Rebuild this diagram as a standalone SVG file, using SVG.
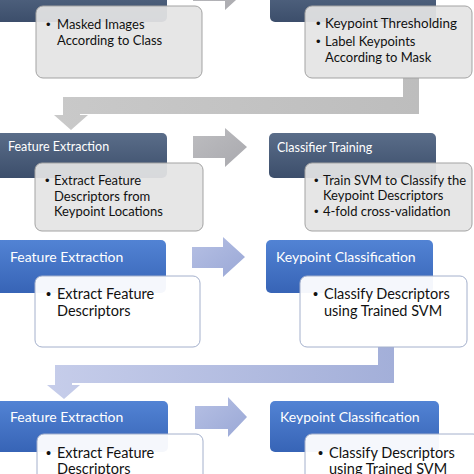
<svg xmlns="http://www.w3.org/2000/svg" width="474" height="474" viewBox="0 0 474 474">
<defs>
<linearGradient id="gDark" x1="0" y1="0" x2="0" y2="1"><stop offset="0" stop-color="#5a6d89"/><stop offset="1" stop-color="#3c4e6b"/></linearGradient>
<linearGradient id="gBlue" x1="0" y1="0" x2="0" y2="1"><stop offset="0" stop-color="#5283d4"/><stop offset="1" stop-color="#3764b6"/></linearGradient>
<linearGradient id="gGrayArr" x1="0" y1="0" x2="1" y2="1"><stop offset="0" stop-color="#bdbdc0"/><stop offset="1" stop-color="#a9a9ae"/></linearGradient>
<linearGradient id="gBlueArr" x1="0" y1="0" x2="1" y2="1"><stop offset="0" stop-color="#b6c0e4"/><stop offset="1" stop-color="#9aa8d6"/></linearGradient>
<linearGradient id="gGrayCon" x1="0" y1="0" x2="1" y2="0"><stop offset="0" stop-color="#c9c9c9"/><stop offset="1" stop-color="#bdbdbd"/></linearGradient>
<linearGradient id="gBlueCon" x1="0" y1="0" x2="1" y2="0"><stop offset="0" stop-color="#c6cdea"/><stop offset="1" stop-color="#a3afd9"/></linearGradient>
</defs>
<style>
.hd{fill:url(#gDark)}
.hb{fill:url(#gBlue)}
.ig{fill:#e4e4e4;fill-opacity:0.93;stroke:#a3a3a3;stroke-width:1}
.iw{fill:#ffffff;fill-opacity:0.95;stroke:#a4b0cc;stroke-width:1}
.ht{font-family:Lato,"Liberation Sans",sans-serif;fill:#ffffff}
.bt{font-family:Lato,"Liberation Sans",sans-serif;fill:#111111}
.bu{font-family:"Liberation Sans",sans-serif}
.s1{font-size:12.5px}
.s2{font-size:14px}
.b1{font-size:13px}
.b2{font-size:14.5px}
</style>
<g id="connectors">
<path d="M419 78 L419 114 L80 114 L80 115 L88 115 L71 130 L54 115 L63 115 L63 97 L403 97 L403 78 Z" fill="url(#gGrayCon)"/>
<path d="M394 347 L394 383 L72 383 L72 385 L80 385 L64 399 L47 385 L55 385 L55 365 L378 365 L378 347 Z" fill="url(#gBlueCon)"/>
<path d="M193 -21 L225 -21 L225 -30 L247 -10 L225 10 L225 1 L193 1 Z" fill="url(#gGrayArr)"/>
<path d="M193 136 L225 136 L225 128 L247 147 L225 167 L225 158 L193 158 Z" fill="url(#gGrayArr)"/>
<path d="M192 247 L223 247 L223 237 L245 257 L223 277 L223 268 L192 268 Z" fill="url(#gBlueArr)"/>
<path d="M195 406 L228 406 L228 397 L247 417 L228 437 L228 429 L195 429 Z" fill="url(#gBlueArr)"/>
</g>
<g id="n1">
<rect class="hd" x="-5" y="-20" width="172" height="42" rx="5"/>
<rect class="ig" x="36" y="6" width="166" height="72" rx="7"/>
<text class="bt b1"><tspan class="bu" x="46" y="29">•</tspan><tspan x="57" y="29">Masked Images</tspan><tspan x="57" y="44.5">According to Class</tspan></text>
</g>
<g id="n2">
<rect class="hd" x="270" y="-20" width="166" height="42" rx="5"/>
<rect class="ig" x="305" y="6" width="167" height="72" rx="7"/>
<text class="bt b1"><tspan class="bu" x="316" y="28">•</tspan><tspan x="325" y="28" textLength="132" lengthAdjust="spacingAndGlyphs">Keypoint Thresholding</tspan><tspan class="bu" x="316" y="46">•</tspan><tspan x="325" y="46">Label Keypoints</tspan><tspan x="325" y="62">According to Mask</tspan></text>
</g>
<g id="n3">
<rect class="hd" x="-5" y="133" width="172" height="45" rx="5"/>
<text class="ht s1" x="8" y="151">Feature Extraction</text>
<rect class="ig" x="35" y="163" width="168" height="68" rx="7"/>
<text class="bt b1"><tspan class="bu" x="45" y="185">•</tspan><tspan x="54" y="185">Extract Feature</tspan><tspan x="54" y="201">Descriptors from</tspan><tspan x="54" y="216">Keypoint Locations</tspan></text>
</g>
<g id="n4">
<rect class="hd" x="269" y="133" width="167" height="45" rx="5"/>
<text class="ht s1" x="277" y="152">Classifier Training</text>
<rect class="ig" x="305" y="163" width="167" height="68" rx="7"/>
<text class="bt b1"><tspan class="bu" x="314" y="185">•</tspan><tspan x="323" y="185">Train SVM to Classify the</tspan><tspan x="323" y="200">Keypoint Descriptors</tspan><tspan class="bu" x="314" y="216">•</tspan><tspan x="323" y="216">4-fold cross-validation</tspan></text>
</g>
<g id="n5">
<rect class="hb" x="-5" y="240" width="171" height="53" rx="5"/>
<text class="ht s2" x="10" y="262">Feature Extraction</text>
<rect class="iw" x="35" y="276" width="165" height="71" rx="7"/>
<text class="bt b2"><tspan class="bu" x="46" y="299">•</tspan><tspan x="57" y="299">Extract Feature</tspan><tspan x="57" y="316">Descriptors</tspan></text>
</g>
<g id="n6">
<rect class="hb" x="266" y="240" width="167" height="53" rx="5"/>
<text class="ht s2" x="276" y="262">Keypoint Classification</text>
<rect class="iw" x="300" y="276" width="167" height="71" rx="7"/>
<text class="bt b2"><tspan class="bu" x="313" y="299">•</tspan><tspan x="324" y="299">Classify Descriptors</tspan><tspan x="324" y="316">using Trained SVM</tspan></text>
</g>
<g id="n7">
<rect class="hb" x="-5" y="401" width="173" height="51" rx="5"/>
<text class="ht s2" x="10" y="422">Feature Extraction</text>
<rect class="iw" x="37" y="434" width="166" height="60" rx="7"/>
<text class="bt b2"><tspan class="bu" x="46" y="458">•</tspan><tspan x="57" y="458">Extract Feature</tspan><tspan x="57" y="474">Descriptors</tspan></text>
</g>
<g id="n8">
<rect class="hb" x="270" y="401" width="169" height="51" rx="5"/>
<text class="ht s2" x="280" y="422">Keypoint Classification</text>
<rect class="iw" x="305" y="434" width="175" height="60" rx="7"/>
<text class="bt b2"><tspan class="bu" x="318" y="458">•</tspan><tspan x="329" y="458">Classify Descriptors</tspan><tspan x="329" y="474">using Trained SVM</tspan></text>
</g>
</svg>
